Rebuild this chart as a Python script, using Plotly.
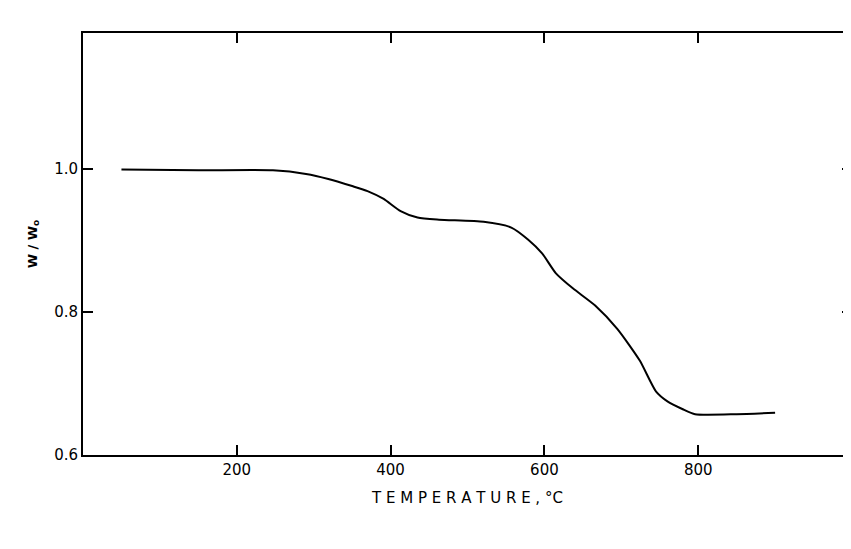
import plotly.graph_objects as go

# TGA curve
temp = [50, 150, 247, 290, 319, 350, 370, 391, 413, 435, 463, 521, 557, 579, 597,
        615, 637, 666, 695, 724, 745, 760, 780, 796, 850, 900]
w_ratio = [0.999, 0.998, 0.998, 0.993, 0.986, 0.976, 0.969, 0.958, 0.941, 0.932, 0.929,
           0.926, 0.918, 0.901, 0.882, 0.854, 0.833, 0.809, 0.776, 0.732, 0.689, 0.675,
           0.664, 0.657, 0.657, 0.659]
x_ticks = [200, 400, 600, 800]
y_ticks = [0.6, 0.8, 1.0]

fig = go.Figure()
fig.add_trace(go.Scatter(x=temp, y=w_ratio, mode="lines",
                         line=dict(color="black", width=2, shape="spline", smoothing=0.6)))

axis_common = dict(showline=True, linecolor="black", linewidth=2, mirror="ticks",
                   ticks="inside", ticklen=10, tickwidth=1.5, tickcolor="black",
                   showgrid=False, zeroline=False)
fig.update_xaxes(range=[0, 1000], tickvals=x_ticks, ticktext=[str(v) for v in x_ticks],
                 title=dict(text="T E M P E R A T U R E , °C", font=dict(size=15), standoff=14),
                 **axis_common)
fig.update_yaxes(range=[0.6, 1.19], tickvals=y_ticks, ticktext=["0.6", "0.8", "1.0"],
                 title=dict(text="<b>W / W<sub>o</sub></b>", font=dict(size=13), standoff=14),
                 **axis_common)
fig.update_layout(width=851, height=549, plot_bgcolor="white", paper_bgcolor="white",
                  showlegend=False, margin=dict(l=75, r=5, t=25, b=102),
                  font=dict(family="DejaVu Sans", size=15, color="black"))
fig.write_html("out.html")
